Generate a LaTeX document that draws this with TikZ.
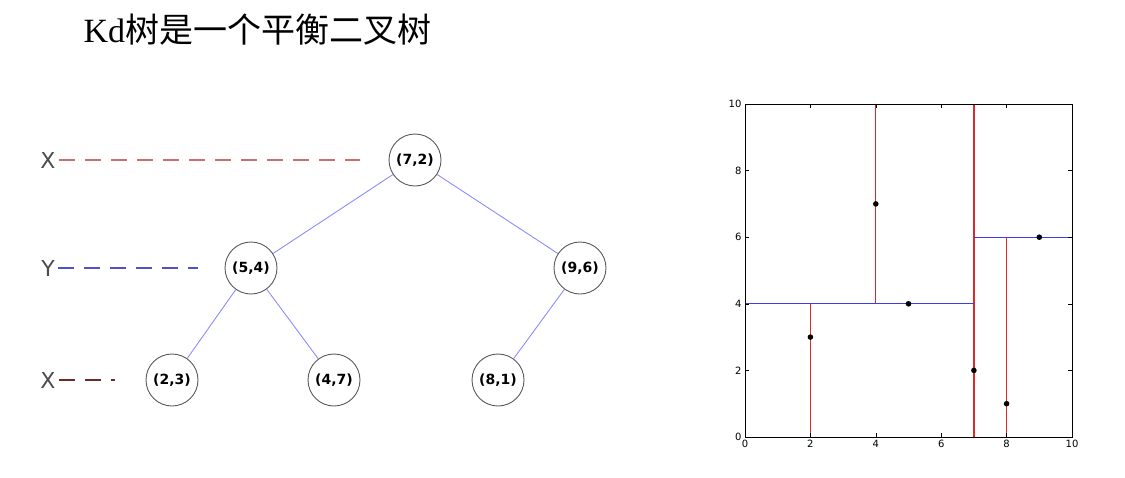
\documentclass[tikz,border=0pt]{standalone}
\usepackage{fontspec}
\setmainfont{Liberation Serif}
\newfontfamily\cjk{Noto Sans CJK SC}
\newfontfamily\lsans{DejaVu Sans}
\definecolor{vred}{RGB}{225,40,40}
\definecolor{hblue}{RGB}{60,60,235}
\begin{document}
\begin{tikzpicture}[x=1pt,y=-1pt,
  tn/.style={circle,draw=black!65,line width=0.9pt,fill=white,minimum size=52pt,inner sep=0pt,font=\lsans\bfseries\fontsize{14}{14}\selectfont},
  edge/.style={draw=blue!45,line width=0.9pt},
  lab/.style={font=\lsans\fontsize{22}{22}\selectfont,text=black!70},
  dsh/.style={dash pattern=on 16pt off 10pt,line width=1.6pt},
  tick/.style={font=\lsans\fontsize{10}{10}\selectfont},
  vl/.style={draw=vred,line width=1.2pt},
  hl/.style={draw=hblue,line width=1.2pt}]
\useasboundingbox (0,0) rectangle (1125,477);
\node[anchor=west,font=\fontsize{34}{34}\selectfont] (title) at (80,30) {Kd{\cjk 树是一个平衡二叉树}};
% tree
\node[tn] (a) at (415,160) {(7,2)};
\node[tn] (b) at (251,268) {(5,4)};
\node[tn] (c) at (580,268) {(9,6)};
\node[tn] (d) at (172,380) {(2,3)};
\node[tn] (e) at (334,380) {(4,7)};
\node[tn] (f) at (498,380) {(8,1)};
\draw[edge] (a) -- (b); \draw[edge] (a) -- (c);
\draw[edge] (b) -- (d); \draw[edge] (b) -- (e);
\draw[edge] (c) -- (f);
\node[lab] (x1) at (48,160) {X};
\node[lab] (y1) at (48,268) {Y};
\node[lab] (x2) at (48,380) {X};
\coordinate (e1) at (360,160);
\coordinate (e2) at (198,268);
\coordinate (e3) at (115,380);
\draw[dsh,draw={rgb,255:red,205;green,110;blue,110}] (x1.east) -- (e1);
\draw[dsh,draw={rgb,255:red,80;green,80;blue,200}] (y1.east) -- (e2);
\draw[dsh,draw={rgb,255:red,110;green,40;blue,40}] (x2.east) -- (e3);
% plot
\begin{scope}[shift={(745,437)},x={(32.7pt,0pt)},y={(0pt,33.3pt)}]
\draw[vl] (7,0)--(7,10);
\draw[vl] (4,4)--(4,10);
\draw[vl] (2,0)--(2,4);
\draw[vl] (8,0)--(8,6);
\draw[hl] (0,4)--(7,4);
\draw[hl] (7,6)--(10,6);
\draw[black,line width=0.6pt] (0,0) rectangle (10,10);
\foreach \v in {0,2,...,10}{
  \draw (\v,0)--(\v,0.12) (\v,10)--(\v,9.88) (0,\v)--(0.12,\v) (10,\v)--(9.88,\v);
  \node[tick,below] at (\v,0) {\v};
  \node[tick,left] at (0,\v) {\v};
}
\foreach \p in {(2,3),(4,7),(5,4),(7,2),(8,1),(9,6)}
  \fill \p circle (2.8pt);
\end{scope}
\end{tikzpicture}
\end{document}
